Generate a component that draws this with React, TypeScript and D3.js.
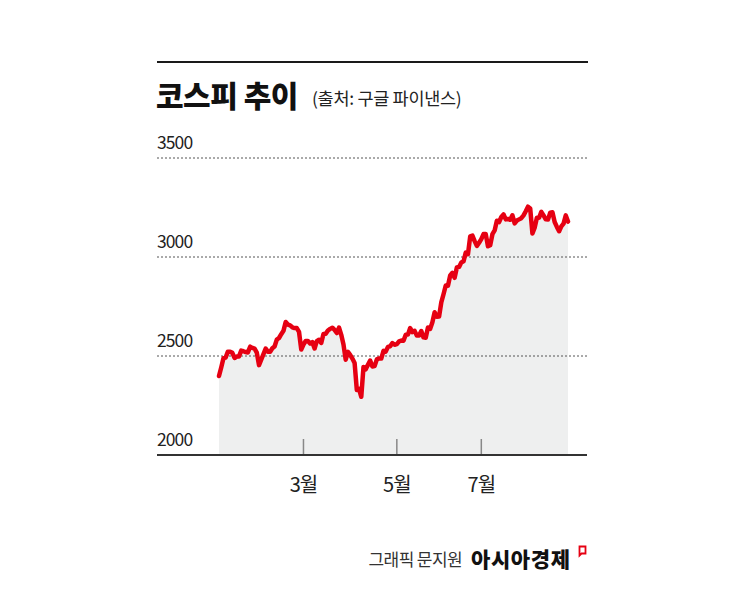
import React from "react";
import * as d3 from "d3";

// KOSPI daily close, trading days from Jan 2 to Aug 26
const months = ["1", "2", "3", "4", "5", "6", "7", "8"];
const janValues = [2399, 2442, 2489, 2492, 2522, 2522, 2516, 2490, 2497, 2498, 2527, 2524, 2520, 2518, 2547, 2541, 2537, 2517];
const febValues = [2454, 2482, 2509, 2537, 2522, 2521, 2539, 2548, 2583, 2591, 2610, 2627, 2672, 2659, 2655, 2645, 2641, 2641, 2622, 2533];
const marValues = [2558, 2576, 2576, 2563, 2570, 2538, 2575, 2582, 2566, 2611, 2612, 2629, 2637, 2643, 2632, 2616, 2643, 2607, 2558, 2481];
const aprValues = [2521, 2506, 2487, 2465, 2328, 2334, 2294, 2445, 2433, 2456, 2477, 2447, 2449, 2483, 2488, 2487, 2526, 2522, 2546, 2549, 2565, 2557];
const mayValues = [2560, 2574, 2578, 2577, 2607, 2608, 2641, 2621, 2627, 2603, 2603, 2626, 2594, 2592, 2644, 2637, 2670, 2721, 2698];
const junValues = [2699, 2771, 2812, 2856, 2855, 2907, 2920, 2895, 2947, 2950, 2972, 2978, 3022, 3014, 3104, 3108, 3080, 3056, 3072];
const julValues = [3090, 3116, 3116, 3054, 3059, 3115, 3134, 3183, 3176, 3202, 3215, 3190, 3192, 3188, 3211, 3170, 3184, 3190, 3196, 3210, 3231, 3254, 3245];
const augValues = [3119, 3148, 3198, 3198, 3228, 3210, 3190, 3189, 3224, 3226, 3177, 3152, 3130, 3155, 3169, 3210, 3179];

const monthSeries = [janValues, febValues, marValues, aprValues, mayValues, junValues, julValues, augValues];
const values: number[] = monthSeries.flat();
const monthOfPoint: string[] = monthSeries.flatMap((arr, i) => arr.map(() => months[i]));

const tickMonths = ["3", "5", "7"];
const tickLabels = ["3월", "5월", "7월"];
const yTicks = [2000, 2500, 3000, 3500];

const title = "코스피 추이";
const subtitle = "(출처: 구글 파이낸스)";
const creditLeft = "그래픽 문지원";
const creditRight = "아시아경제";

const FONT = "'Noto Sans CJK KR', 'Noto Sans', sans-serif";

export default function App() {
  const W = 745;
  const H = 596;
  const left = 157;
  const right = 587;
  const x = d3.scaleLinear().domain([0, values.length - 1]).range([219, 568]);
  const y = d3.scaleLinear().domain([2000, 3500]).range([455, 158]);

  const line = d3
    .line<number>()
    .x((_, i) => x(i))
    .y((d) => y(d))
    .curve(d3.curveLinear);
  const area = d3
    .area<number>()
    .x((_, i) => x(i))
    .y0(y(2000))
    .y1((d) => y(d));

  const tickIdx = tickMonths.map((m) => monthOfPoint.indexOf(m));

  return (
    <svg
      width={W}
      height={H}
      style={{ position: "absolute", left: 0, top: 0, background: "#fff" }}
      fontFamily={FONT}
    >
      <rect width={W} height={H} fill="#fff" />
      {/* top rule */}
      <line x1={left} x2={right + 1} y1={62} y2={62} stroke="#1a1a1a" strokeWidth={2} />
      {/* title */}
      <text x={left - 1} y={107} fontSize={30} fontWeight={900} fill="#111" letterSpacing={-0.5}>
        {title}
      </text>
      <text x={312} y={105} fontSize={17.5} fill="#222" letterSpacing={-0.3}>
        {subtitle}
      </text>

      {/* area */}
      <path d={area(values) || ""} fill="#eeefef" />

      {/* grid */}
      {yTicks.map((t) => (
        <g key={t}>
          {t !== 2000 && (
            <line
              x1={left}
              x2={right}
              y1={y(t)}
              y2={y(t)}
              stroke="#555"
              strokeWidth={1}
              strokeDasharray="2,2"
            />
          )}
          <text x={left} y={y(t) - 9.5} fontSize={17.5} fill="#222" letterSpacing={-0.9}>
            {t}
          </text>
        </g>
      ))}

      {/* x ticks */}
      {tickIdx.map((ti, i) => (
        <g key={i}>
          <line x1={x(ti)} x2={x(ti)} y1={439} y2={455} stroke="#888" strokeWidth={1.5} />
          <text x={x(ti)} y={492} fontSize={20} fill="#222" textAnchor="middle" letterSpacing={-1}>
            {tickLabels[i]}
          </text>
        </g>
      ))}

      {/* axis */}
      <line x1={left} x2={right} y1={455} y2={455} stroke="#333" strokeWidth={2} />

      {/* line */}
      <path
        d={line(values) || ""}
        fill="none"
        stroke="#e60012"
        strokeWidth={4.5}
        strokeLinejoin="round"
        strokeLinecap="round"
      />

      {/* credit */}
      <text x={462} y={566} fontSize={17} fill="#333" textAnchor="end" letterSpacing={-0.6}>
        {creditLeft}
      </text>
      <text x={471} y={567} fontSize={21} fontWeight={900} fill="#111" letterSpacing={0.6}>
        {creditRight}
      </text>
      <path d="M579.5,546.5 h6 v7 h-4 l-2,2 z" fill="none" stroke="#e60012" strokeWidth={1.8} />
    </svg>
  );
}
